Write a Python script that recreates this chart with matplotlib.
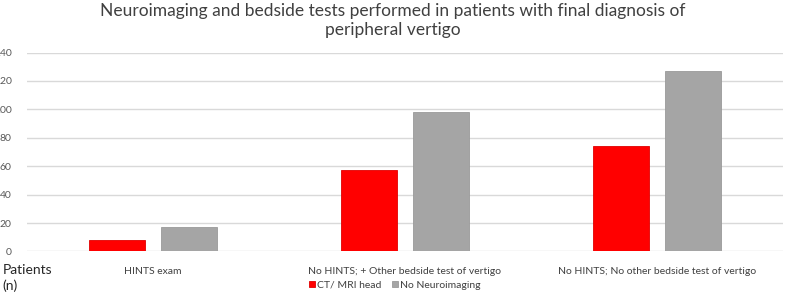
import numpy as np
import matplotlib.pyplot as plt

categories = ['HINTS exam',
              'No HINTS; + Other bedside test of vertigo',
              'No HINTS; No other bedside test of vertigo']
ct_mri = [8, 57, 74]
no_imaging = [17, 98, 127]
yticks = [0, 20, 40, 60, 80, 100, 120, 140]

plt.rcParams['font.family'] = ['Lato', 'DejaVu Sans']

fig = plt.figure(figsize=(7.85, 3.07), dpi=100)
ax = fig.add_axes([0.0344, 0.1808, 0.963, 0.648])

x = np.arange(len(categories))
w = 0.224
gap = 0.0615
ax.bar(x - (w + gap) / 2, ct_mri, w, color='#ff0000', edgecolor='#e00000',
       linewidth=0.6, label='CT/ MRI head', zorder=3)
ax.bar(x + (w + gap) / 2, no_imaging, w, color='#a5a5a5', edgecolor='#9a9a9a',
       linewidth=0.6, label='No Neuroimaging', zorder=3)

ax.set_xlim(-0.5, 2.5)
ax.set_ylim(0, 140)
ax.set_yticks(yticks)
ax.set_yticklabels([str(v) for v in yticks])
ax.set_xticks(x)
ax.set_xticklabels(categories)
ax.yaxis.grid(True, color='#d9d9d9', linewidth=1.0, zorder=0)
ax.set_axisbelow(True)
for s in ax.spines.values():
    s.set_visible(False)
ax.tick_params(axis='y', length=0, pad=11, labelsize=7.5, labelcolor='#595959')
ax.tick_params(axis='x', length=0, pad=11, labelsize=7.5, labelcolor='#404040')

# title sits near the top edge like the original export
fig.text(0.5, 0.933, 'Neuroimaging and bedside tests performed in patients with final diagnosis of\nperipheral vertigo',
         ha='center', va='center', fontsize=12.5, color='#404040', linespacing=1.25)
fig.text(0.003, 1 - 278 / 307, 'Patients\n(n)', ha='left', va='center', fontsize=10,
         color='#262626', linespacing=1.3)

fig.legend(loc='center', bbox_to_anchor=(395 / 785, 1 - 285 / 307), ncol=2, frameon=False,
           fontsize=7.5, handlelength=0.6, handleheight=0.6, handletextpad=0.2,
           columnspacing=1.0, labelcolor='#404040')

fig.savefig('out.png', dpi=100)
